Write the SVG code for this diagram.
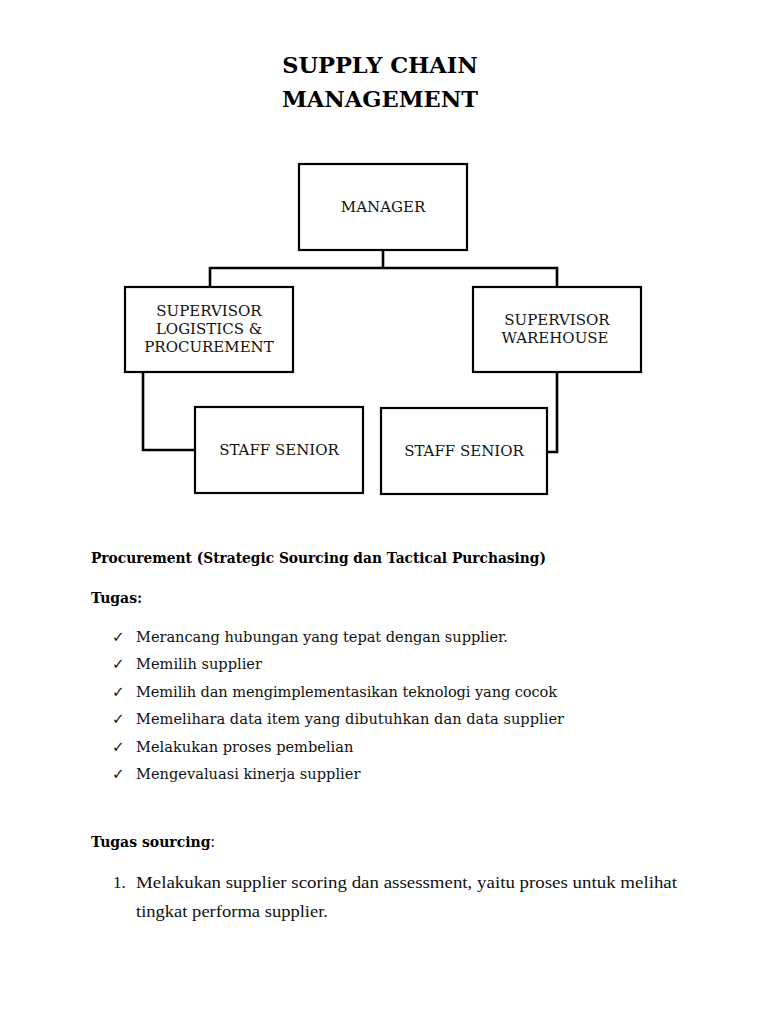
<svg xmlns="http://www.w3.org/2000/svg" width="768" height="1024" viewBox="0 0 768 1024">
<style>
.box{fill:#fff;stroke:#000;stroke-width:2.2}
.conn{fill:none;stroke:#000;stroke-width:2.6}
.lbl{font-family:"DejaVu Serif",serif;font-size:15px;fill:#111;text-anchor:middle}
.title{font-family:"DejaVu Serif",serif;font-weight:bold;font-size:22.5px;fill:#000;text-anchor:middle}
.h{font-family:"DejaVu Serif",serif;font-weight:bold;font-size:14px;fill:#000}
.b{font-family:"DejaVu Serif",serif;font-size:14.6px;fill:#111}
.ck{font-family:"DejaVu Sans",sans-serif;font-size:15px;fill:#111}
.c{font-family:"Liberation Serif",serif;font-size:17.2px;fill:#111}
</style>
<rect width="768" height="1024" fill="#fff"/>
<text class="title" x="380" y="73">SUPPLY CHAIN</text>
<text class="title" x="380" y="107">MANAGEMENT</text>
<g id="connectors">
<path class="conn" d="M383 250 V268 M210 287 V268 H557 V287"/>
<path class="conn" d="M143 372 V450 H195"/>
<path class="conn" d="M557 372 V452 H547"/>
</g>
<g id="manager"><rect class="box" x="299" y="164" width="168" height="86"/><text class="lbl" x="383" y="212">MANAGER</text></g>
<g id="sup-logistics"><rect class="box" x="125" y="287" width="168" height="85"/>
<text class="lbl" x="209" y="316">SUPERVISOR</text><text class="lbl" x="209" y="334">LOGISTICS &amp;</text><text class="lbl" x="209" y="352">PROCUREMENT</text></g>
<g id="sup-warehouse"><rect class="box" x="473" y="287" width="168" height="85"/>
<text class="lbl" x="557" y="325">SUPERVISOR</text><text class="lbl" x="555" y="343">WAREHOUSE</text></g>
<g id="staff-left"><rect class="box" x="195" y="407" width="168" height="86"/><text class="lbl" x="279" y="455">STAFF SENIOR</text></g>
<g id="staff-right"><rect class="box" x="381" y="408" width="166" height="86"/><text class="lbl" x="464" y="456">STAFF SENIOR</text></g>
<text class="h" x="91" y="563" textLength="455" lengthAdjust="spacingAndGlyphs">Procurement (Strategic Sourcing dan Tactical Purchasing)</text>
<text class="h" x="91" y="603">Tugas:</text>
<g>
<text class="ck" x="112" y="642">✓</text><text class="b" x="136" y="642" textLength="372">Merancang hubungan yang tepat dengan supplier.</text>
<text class="ck" x="112" y="669">✓</text><text class="b" x="136" y="669">Memilih supplier</text>
<text class="ck" x="112" y="697">✓</text><text class="b" x="136" y="697" textLength="421">Memilih dan mengimplementasikan teknologi yang cocok</text>
<text class="ck" x="112" y="724">✓</text><text class="b" x="136" y="724" textLength="428">Memelihara data item yang dibutuhkan dan data supplier</text>
<text class="ck" x="112" y="752">✓</text><text class="b" x="136" y="752">Melakukan proses pembelian</text>
<text class="ck" x="112" y="779">✓</text><text class="b" x="136" y="779">Mengevaluasi kinerja supplier</text>
</g>
<text x="91" y="847"><tspan class="h">Tugas sourcing</tspan><tspan class="c" style="font-size:16px">:</tspan></text>
<text class="c" x="113" y="888">1.</text>
<text class="c" x="136" y="888" textLength="541" lengthAdjust="spacingAndGlyphs">Melakukan supplier scoring dan assessment, yaitu proses untuk melihat</text>
<text class="c" x="136" y="917" textLength="192" lengthAdjust="spacingAndGlyphs">tingkat performa supplier.</text>
</svg>
